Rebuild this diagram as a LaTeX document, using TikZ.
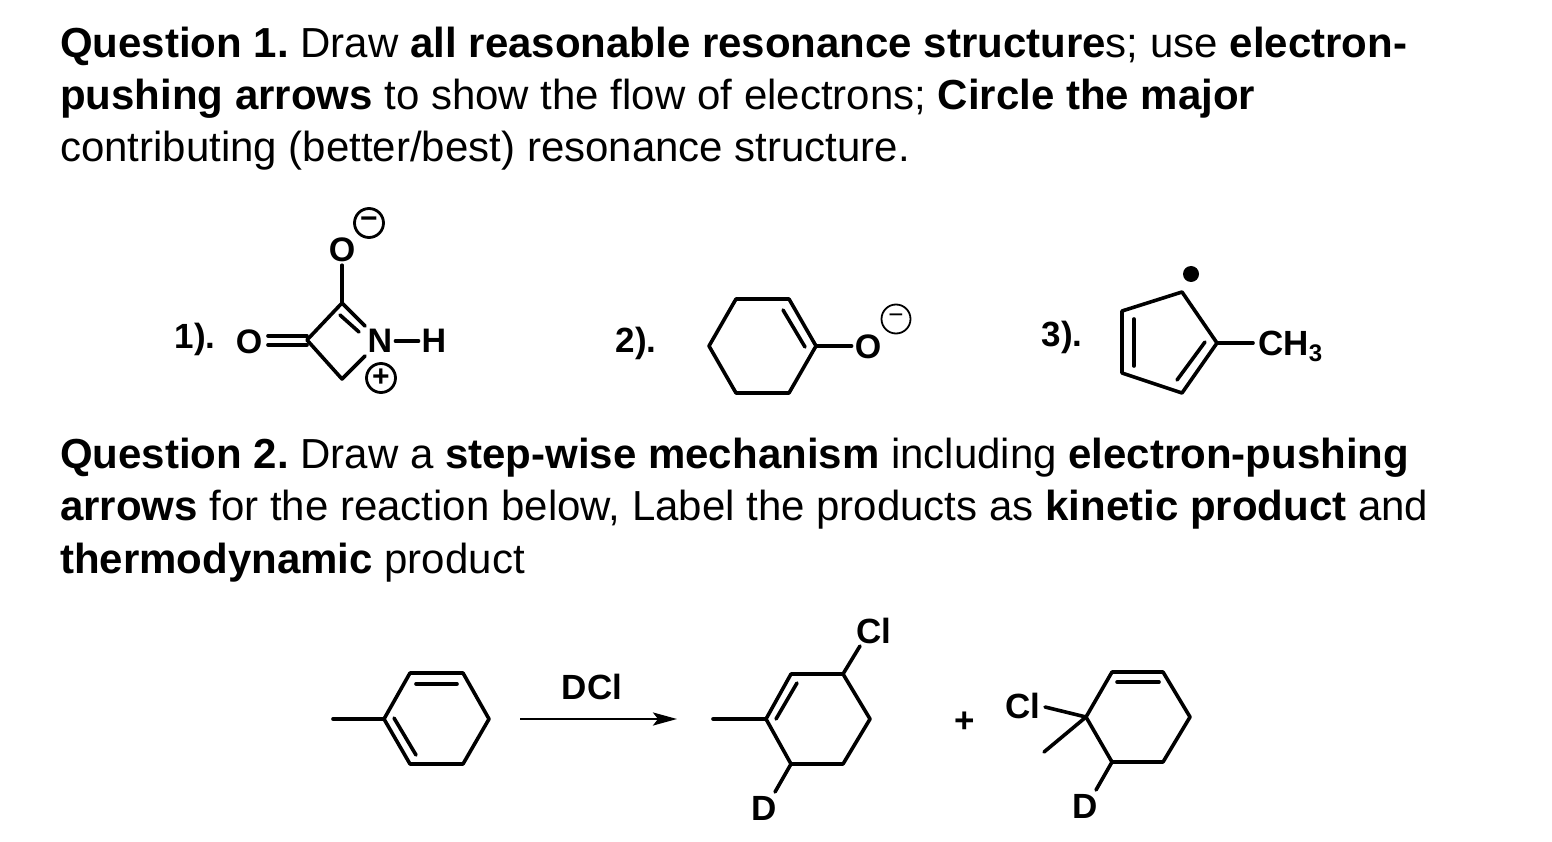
\documentclass[tikz,border=0pt]{standalone}
\usepackage{xcolor}
\usepackage{fontspec}
\setmainfont{Liberation Sans}
\usetikzlibrary{arrows.meta}
\frenchspacing

\begin{document}
\begin{tikzpicture}[x=1pt,y=-1pt]
    \tikzstyle{Q}=[anchor=base west,align=left,inner sep=0pt,font=\fontsize{42}{52.2}\selectfont]
    \tikzstyle{A}=[inner sep=3pt,font=\fontsize{34}{36}\selectfont\bfseries]
    \tikzstyle{L}=[inner sep=0pt,font=\fontsize{35}{36}\selectfont\bfseries]
    \tikzstyle{bond}=[line width=3.6pt,line cap=round,line join=round]
    \tikzstyle{charge}=[circle,draw,line width=2.8pt,minimum size=29pt,inner sep=0pt,font=\fontsize{30}{30}\selectfont\bfseries]

    \useasboundingbox (0,0) rectangle (1552,842);

    % questions
    \node [Q] (q1) at (60,162) {\textbf{Question 1.} Draw \textbf{all reasonable resonance structure}s; use \textbf{electron-}\\\textbf{pushing arrows} to show the flow of electrons; \textbf{Circle the major}\\contributing (better/best) resonance structure.};
    \node [Q] (q2) at (60,573) {\textbf{Question 2.} Draw a \textbf{step-wise mechanism} including \textbf{electron-pushing}\\\textbf{arrows} for the reaction below, Label the products as \textbf{kinetic product} and\\\textbf{thermodynamic} product};

    % 1
    \node [L] (lab1) at (195,339) {1).};
    \node [A] (o1) at (342,250) {O};
    \node [A] (o2) at (249,342) {O};
    \node [A] (n1) at (380,341) {N};
    \node [A] (h1) at (434,341) {H};
    \node [charge] (minus1) at (369,223) {\raisebox{-3pt}{−}};
    \node [charge] (plus1) at (381,378) {+};
    \coordinate (a1) at (342,303);
    \coordinate (a2) at (307,340);
    \coordinate (a3) at (342,379);
    \coordinate (a4) at (268,336);
    \coordinate (a5) at (307,336);
    \coordinate (a6) at (268,345);
    \coordinate (a7) at (307,345);
    \coordinate (a8) at (340,315);
    \coordinate (a9) at (359,332);
    \draw [bond] (n1) -- (a1) -- (a2) -- (a3) -- (n1);
    \draw [bond] (a1) -- (o1);
    \draw [bond] (n1) -- (h1);
    \draw [bond] (a4) -- (a5);
    \draw [bond] (a6) -- (a7);
    \draw [bond] (a8) -- (a9);

    % 2
    \node [L] (lab2) at (636,343) {2).};
    \node [A] (o3) at (868,347) {O};
    \node [charge,line width=1.8pt,font=\fontsize{26}{26}\selectfont] (minus2) at (896,319) {\raisebox{-2pt}{−}};
    \coordinate (b1) at (736,299);
    \coordinate (b2) at (789,299);
    \coordinate (b3) at (816,346);
    \coordinate (b4) at (789,393);
    \coordinate (b5) at (736,393);
    \coordinate (b6) at (709,346);
    \coordinate (b7) at (783,310);
    \coordinate (b8) at (805,347);
    \draw [bond] (b1) -- (b2) -- (b3) -- (b4) -- (b5) -- (b6) -- cycle;
    \draw [bond] (b7) -- (b8);
    \draw [bond] (b3) -- (b3 -| o3.west);

    % 3
    \node [L] (lab3) at (1062,337) {3).};
    \node [circle,fill,minimum size=16pt,inner sep=0pt] (dot1) at (1191,274) {};
    \node [L,anchor=base west] (me1) at (1258,355) {CH\raisebox{-6pt}{\fontsize{24}{24}\selectfont 3}};
    \coordinate (c1) at (1182,292);
    \coordinate (c2) at (1122,311);
    \coordinate (c3) at (1122,373);
    \coordinate (c4) at (1182,393);
    \coordinate (c5) at (1217,343);
    \coordinate (c6) at (1134,319);
    \coordinate (c7) at (1134,366);
    \coordinate (c8) at (1205,342);
    \coordinate (c9) at (1177,380);
    \coordinate (c10) at (1253,343);
    \draw [bond] (c1) -- (c2) -- (c3) -- (c4) -- (c5) -- cycle;
    \draw [bond] (c6) -- (c7);
    \draw [bond] (c8) -- (c9);
    \draw [bond] (c5) -- (c10);

    % reactant
    \coordinate (d1) at (410,673);
    \coordinate (d2) at (463,673);
    \coordinate (d3) at (489,719);
    \coordinate (d4) at (463,764);
    \coordinate (d5) at (410,764);
    \coordinate (d6) at (384,719);
    \coordinate (d7) at (333,719);
    \coordinate (d8) at (416,684);
    \coordinate (d9) at (457,684);
    \coordinate (d10) at (394,718);
    \coordinate (d11) at (416,755);
    \draw [bond] (d1) -- (d2) -- (d3) -- (d4) -- (d5) -- (d6) -- cycle;
    \draw [bond] (d6) -- (d7);
    \draw [bond] (d8) -- (d9);
    \draw [bond] (d10) -- (d11);

    % arrow
    \node [L] (dcl) at (592,687) {DCl};
    \coordinate (r1) at (520,719);
    \coordinate (r2) at (677,719);
    \draw [line width=2.6pt,-{Stealth[length=24pt,width=13pt,inset=5pt]}] (r1) -- (r2);

    % product 1
    \node [L] (cl1) at (874,631) {Cl};
    \node [L] (d-1) at (764,808) {D};
    \coordinate (e1) at (791,674);
    \coordinate (e2) at (843,674);
    \coordinate (e3) at (870,719);
    \coordinate (e4) at (843,764);
    \coordinate (e5) at (791,764);
    \coordinate (e6) at (766,719);
    \coordinate (e7) at (713,719);
    \coordinate (e8) at (797,683);
    \coordinate (e9) at (776,719);
    \coordinate (e10) at (860,646);
    \coordinate (e11) at (775,792);
    \draw [bond] (e1) -- (e2) -- (e3) -- (e4) -- (e5) -- (e6) -- cycle;
    \draw [bond] (e6) -- (e7);
    \draw [bond] (e8) -- (e9);
    \draw [bond] (e2) -- (e10);
    \draw [bond] (e5) -- (e11);

    \node [L] (plus2) at (965,722) {+};

    % product 2
    \node [L] (cl2) at (1023,706) {Cl};
    \node [L] (d-2) at (1085,806) {D};
    \coordinate (f1) at (1112,672);
    \coordinate (f2) at (1163,672);
    \coordinate (f3) at (1190,717);
    \coordinate (f4) at (1163,762);
    \coordinate (f5) at (1112,762);
    \coordinate (f6) at (1086,717);
    \coordinate (f7) at (1117,682);
    \coordinate (f8) at (1159,682);
    \coordinate (f9) at (1045,707);
    \coordinate (f10) at (1044,752);
    \coordinate (f11) at (1096,790);
    \draw [bond] (f1) -- (f2) -- (f3) -- (f4) -- (f5) -- (f6) -- cycle;
    \draw [bond] (f7) -- (f8);
    \draw [bond] (f6) -- (f9);
    \draw [bond] (f6) -- (f10);
    \draw [bond] (f5) -- (f11);
\end{tikzpicture}
\end{document}
